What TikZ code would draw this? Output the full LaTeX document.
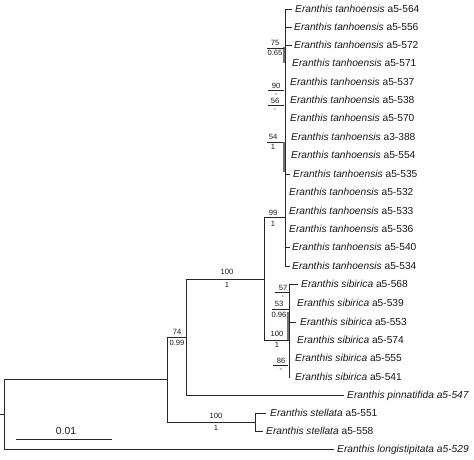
\documentclass[tikz,border=0pt]{standalone}
\usepackage{fontspec}
\setmainfont{Liberation Sans}
\begin{document}
\begin{tikzpicture}[x=1pt,y=-1pt,
  br/.style={line width=1pt, line cap=rect, draw=black!85},
  thk/.style={line width=1.6pt, draw=black!55},
  leaf/.style={anchor=west, inner sep=0pt, text height=7.3pt, text depth=0pt, text=black!90, font=\fontsize{10.2}{12}\selectfont},
  supp/.style={inner sep=0pt, text height=5.4pt, text depth=0pt, text=black!90, font=\fontsize{7.6}{9}\selectfont},
  uline/.style={line width=0.7pt, draw=black!85}]
\useasboundingbox (0,0) rectangle (474,459);
% leaves: tanhoensis
\node[leaf] (t564) at (295,9)   {\textit{Eranthis tanhoensis} a5-564};
\node[leaf] (t556) at (294,27)  {\textit{Eranthis tanhoensis} a5-556};
\node[leaf] (t572) at (294,45)  {\textit{Eranthis tanhoensis} a5-572};
\node[leaf] (t571) at (292,63)  {\textit{Eranthis tanhoensis} a5-571};
\node[leaf] (t537) at (290,82)  {\textit{Eranthis tanhoensis} a5-537};
\node[leaf] (t538) at (290,100) {\textit{Eranthis tanhoensis} a5-538};
\node[leaf] (t570) at (290,118) {\textit{Eranthis tanhoensis} a5-570};
\node[leaf] (t388) at (291,137) {\textit{Eranthis tanhoensis} a3-388};
\node[leaf] (t554) at (291,155) {\textit{Eranthis tanhoensis} a5-554};
\node[leaf] (t535) at (293,174) {\textit{Eranthis tanhoensis} a5-535};
\node[leaf] (t532) at (289,192) {\textit{Eranthis tanhoensis} a5-532};
\node[leaf] (t533) at (289,211) {\textit{Eranthis tanhoensis} a5-533};
\node[leaf] (t536) at (289,229) {\textit{Eranthis tanhoensis} a5-536};
\node[leaf] (t540) at (292,247) {\textit{Eranthis tanhoensis} a5-540};
\node[leaf] (t534) at (292,266) {\textit{Eranthis tanhoensis} a5-534};
% sibirica
\node[leaf] (s568) at (301,284) {\textit{Eranthis sibirica} a5-568};
\node[leaf] (s539) at (297,303) {\textit{Eranthis sibirica} a5-539};
\node[leaf] (s553) at (300,322) {\textit{Eranthis sibirica} a5-553};
\node[leaf] (s574) at (297,340) {\textit{Eranthis sibirica} a5-574};
\node[leaf] (s555) at (295,358) {\textit{Eranthis sibirica} a5-555};
\node[leaf] (s541) at (295,377) {\textit{Eranthis sibirica} a5-541};
% others
\node[leaf] (pin) at (347,395) {\textit{Eranthis pinnatifida a5-547}};
\node[leaf] (st551) at (270,413) {\textit{Eranthis stellata} a5-551};
\node[leaf] (st558) at (266,431) {\textit{Eranthis stellata} a5-558};
\node[leaf] (lon) at (337,449) {\textit{Eranthis longistipitata a5-529}};
% internal coordinates
\coordinate (rs) at (0,414);
\coordinate (r)  at (4,414);
\coordinate (rt) at (4,379);
\coordinate (rb) at (4,449);
\coordinate (a)  at (167,379);
\coordinate (at) at (167,337);
\coordinate (ab) at (167,422);
\coordinate (b)  at (186,337);
\coordinate (bt) at (186,279);
\coordinate (bb) at (186,395);
\coordinate (ct) at (264,279);
\coordinate (cu) at (264,217);
\coordinate (cb) at (264,340);
\coordinate (d)  at (285,217);
\coordinate (dt) at (285,9);
\coordinate (db) at (285,266);
\coordinate (e)  at (289,340);
\coordinate (et) at (289,284);
\coordinate (eb) at (289,377);
\coordinate (f)  at (255,422);
\coordinate (ft) at (255,413);
\coordinate (fb) at (255,431);
% branches
\draw[br] (rs) -- (r);
\draw[br] (rt) -- (rb);
\draw[br] (rt) -- (a);
\draw[br] (at) -- (ab);
\draw[br] (at) -- (b);
\draw[br] (bt) -- (bb);
\draw[br] (bt) -- (ct);
\draw[br] (cu) -- (cb);
\draw[br] (cu) -- (d);
\draw[br] (dt) -- (db);
\draw[br] (cb) -- (e);
\draw[br] (et) -- (eb);
\draw[br] (ab) -- (f);
\draw[br] (ft) -- (fb);
\draw[br] (bb) -- ([xshift=-4pt]pin.west);
\draw[br] (rb) -- ([xshift=-4pt]lon.west);
\draw[br] (ft) -- ([xshift=-5pt]st551.west);
\draw[br] (fb) -- ([xshift=-4pt]st558.west);
% tiny tips
\draw[br] (dt) -- ([xshift=-4pt]t564.west);
\draw[br] (285,27) -- ([xshift=-3pt]t556.west);
\draw[br] (285,45) -- ([xshift=-3pt]t572.west);
\draw[br] (285,174) -- ([xshift=-4pt]t535.west);
\draw[br] (285,247) -- ([xshift=-3pt]t540.west);
\draw[br] (db) -- ([xshift=-3pt]t534.west);
\draw[br] (et) -- ([xshift=-4pt]s568.west);
\draw[br] (289,322) -- ([xshift=-5pt]s553.west);
% collapsed-clade marks
\draw[thk] (284,47) -- (284,63);
\draw[thk] (284,142) -- (284,172);
\draw[thk] (288,312) -- (288,340);
% support values
\node[supp] (l74a) at (177,332) {74};
\node[supp] (l74b) at (177,343) {0.99};
\node[supp] (l100a) at (227,272) {100};
\node[supp] (l100b) at (227,285) {1};
\node[supp] (l100c) at (216,416) {100};
\node[supp] (l100d) at (216,428) {1};
\node[supp] (l99a) at (273,213) {99};
\node[supp] (l99b) at (273,224) {1};
\node[supp] (l100e) at (277,334) {100};
\node[supp] (l100f) at (277,345) {1};
\node[supp] (l75a) at (275,43) {75};
\node[supp] (l75b) at (275,53) {0.65};
\draw[uline] (267,48) -- (284,48);
\node[supp] (l90a) at (276,86) {90};
\node[supp] (l90b) at (276,94) {-};
\draw[uline] (268,90) -- (284,90);
\node[supp] (l56a) at (275,101) {56};
\node[supp] (l56b) at (275,109) {-};
\draw[uline] (268,105) -- (284,105);
\node[supp] (l54a) at (273,137) {54};
\node[supp] (l54b) at (273,147) {1};
\draw[uline] (267,142) -- (283,142);
\node[supp] (l57a) at (283,288) {57};
\node[supp] (l57b) at (283,296) {-};
\draw[uline] (275,292) -- (289,292);
\node[supp] (l53a) at (279,304) {53};
\node[supp] (l53b) at (279,315) {0.96};
\draw[uline] (272,309) -- (289,309);
\node[supp] (l86a) at (281,361) {86};
\node[supp] (l86b) at (281,369) {-};
\draw[uline] (273,365) -- (288,365);
% scale bar
\coordinate (sb1) at (16,439);
\coordinate (sb2) at (111,439);
\draw[br] (sb1) -- (sb2);
\node[inner sep=0pt, text height=7.2pt, text depth=0pt, text=black!90, font=\fontsize{10.3}{12}\selectfont] (sbl) at (66,431) {0.01};
\end{tikzpicture}
\end{document}
